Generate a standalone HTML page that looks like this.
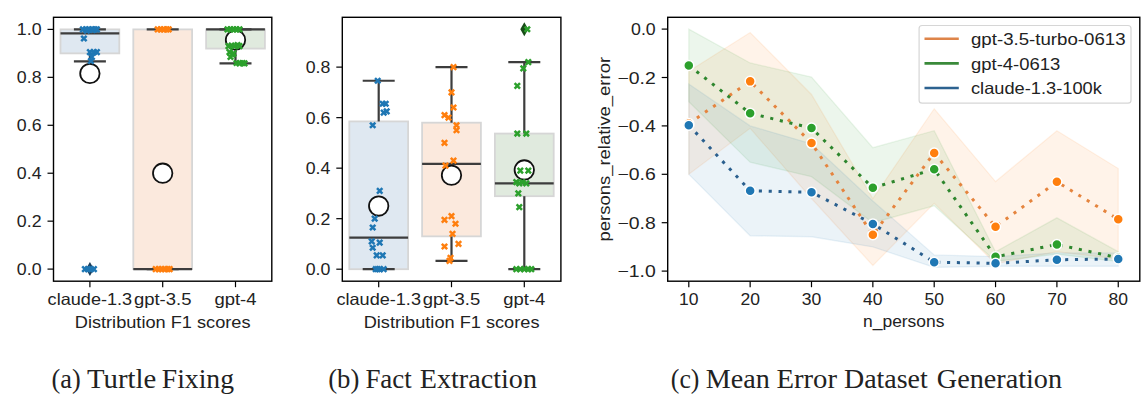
<!DOCTYPE html>
<html><head><meta charset="utf-8"><style>
html,body{margin:0;padding:0;background:#fff;width:1145px;height:407px;overflow:hidden;}
svg{display:block;}
text{fill:#222;}
</style></head><body>
<svg width="1145" height="407" viewBox="0 0 1145 407">
<g id="a">
<rect x="60.50" y="29.40" width="58.80" height="23.97" fill="#dfe8f1" stroke="#d6d6d6" stroke-width="1.8"/>
<line x1="89.90" y1="53.37" x2="89.90" y2="61.28" stroke="#3d3d3d" stroke-width="2.2" />
<line x1="73.90" y1="29.40" x2="105.90" y2="29.40" stroke="#3d3d3d" stroke-width="2.2" />
<line x1="73.90" y1="61.28" x2="105.90" y2="61.28" stroke="#3d3d3d" stroke-width="2.2" />
<line x1="60.50" y1="33.47" x2="119.30" y2="33.47" stroke="#3d3d3d" stroke-width="2.3" />
<path d="M89.90,262.10L93.90,269.10L89.90,276.10L85.90,269.10Z" fill="#1d3f5c"/>
<circle cx="89.90" cy="73.50" r="9.7" fill="#fff" stroke="#111" stroke-width="1.8"/>
<path d="M80.20,26.70L85.60,32.10M80.20,32.10L85.60,26.70" stroke="#1f77b4" stroke-width="2.5"/>
<path d="M83.20,26.70L88.60,32.10M83.20,32.10L88.60,26.70" stroke="#1f77b4" stroke-width="2.5"/>
<path d="M86.20,26.70L91.60,32.10M86.20,32.10L91.60,26.70" stroke="#1f77b4" stroke-width="2.5"/>
<path d="M89.20,26.70L94.60,32.10M89.20,32.10L94.60,26.70" stroke="#1f77b4" stroke-width="2.5"/>
<path d="M92.20,26.70L97.60,32.10M92.20,32.10L97.60,26.70" stroke="#1f77b4" stroke-width="2.5"/>
<path d="M94.20,26.70L99.60,32.10M94.20,32.10L99.60,26.70" stroke="#1f77b4" stroke-width="2.5"/>
<path d="M84.20,27.90L89.60,33.30M84.20,33.30L89.60,27.90" stroke="#1f77b4" stroke-width="2.5"/>
<path d="M90.20,27.18L95.60,32.58M90.20,32.58L95.60,27.18" stroke="#1f77b4" stroke-width="2.5"/>
<path d="M81.20,35.81L86.60,41.21M81.20,41.21L86.60,35.81" stroke="#1f77b4" stroke-width="2.5"/>
<path d="M87.20,49.47L92.60,54.87M87.20,54.87L92.60,49.47" stroke="#1f77b4" stroke-width="2.5"/>
<path d="M91.20,49.47L96.60,54.87M91.20,54.87L96.60,49.47" stroke="#1f77b4" stroke-width="2.5"/>
<path d="M94.20,49.47L99.60,54.87M94.20,54.87L99.60,49.47" stroke="#1f77b4" stroke-width="2.5"/>
<path d="M89.20,54.27L94.60,59.67M89.20,59.67L94.60,54.27" stroke="#1f77b4" stroke-width="2.5"/>
<path d="M88.20,58.34L93.60,63.74M88.20,63.74L93.60,58.34" stroke="#1f77b4" stroke-width="2.5"/>
<path d="M82.20,266.40L87.60,271.80M82.20,271.80L87.60,266.40" stroke="#1f77b4" stroke-width="2.5"/>
<path d="M85.20,266.40L90.60,271.80M85.20,271.80L90.60,266.40" stroke="#1f77b4" stroke-width="2.5"/>
<path d="M88.20,266.40L93.60,271.80M88.20,271.80L93.60,266.40" stroke="#1f77b4" stroke-width="2.5"/>
<path d="M91.20,266.40L96.60,271.80M91.20,271.80L96.60,266.40" stroke="#1f77b4" stroke-width="2.5"/>
<rect x="133.30" y="29.40" width="58.80" height="239.70" fill="#fbe9dd" stroke="#d6d6d6" stroke-width="1.8"/>
<line x1="146.70" y1="29.40" x2="178.70" y2="29.40" stroke="#3d3d3d" stroke-width="2.2" />
<line x1="146.70" y1="269.10" x2="178.70" y2="269.10" stroke="#3d3d3d" stroke-width="2.2" />
<line x1="133.30" y1="269.10" x2="192.10" y2="269.10" stroke="#3d3d3d" stroke-width="2.3" />
<circle cx="162.70" cy="173.22" r="9.7" fill="#fff" stroke="#111" stroke-width="1.8"/>
<path d="M155.00,26.70L160.40,32.10M155.00,32.10L160.40,26.70" stroke="#ff7f0e" stroke-width="2.5"/>
<path d="M158.00,26.70L163.40,32.10M158.00,32.10L163.40,26.70" stroke="#ff7f0e" stroke-width="2.5"/>
<path d="M161.00,26.70L166.40,32.10M161.00,32.10L166.40,26.70" stroke="#ff7f0e" stroke-width="2.5"/>
<path d="M164.00,26.70L169.40,32.10M164.00,32.10L169.40,26.70" stroke="#ff7f0e" stroke-width="2.5"/>
<path d="M166.00,26.70L171.40,32.10M166.00,32.10L171.40,26.70" stroke="#ff7f0e" stroke-width="2.5"/>
<path d="M153.00,266.40L158.40,271.80M153.00,271.80L158.40,266.40" stroke="#ff7f0e" stroke-width="2.5"/>
<path d="M156.00,266.40L161.40,271.80M156.00,271.80L161.40,266.40" stroke="#ff7f0e" stroke-width="2.5"/>
<path d="M159.00,266.40L164.40,271.80M159.00,271.80L164.40,266.40" stroke="#ff7f0e" stroke-width="2.5"/>
<path d="M162.00,266.40L167.40,271.80M162.00,271.80L167.40,266.40" stroke="#ff7f0e" stroke-width="2.5"/>
<path d="M165.00,266.40L170.40,271.80M165.00,271.80L170.40,266.40" stroke="#ff7f0e" stroke-width="2.5"/>
<path d="M167.00,266.40L172.40,271.80M167.00,271.80L172.40,266.40" stroke="#ff7f0e" stroke-width="2.5"/>
<rect x="206.10" y="29.40" width="58.80" height="19.18" fill="#e0eade" stroke="#d6d6d6" stroke-width="1.8"/>
<line x1="235.50" y1="48.58" x2="235.50" y2="63.44" stroke="#3d3d3d" stroke-width="2.2" />
<line x1="219.50" y1="29.40" x2="251.50" y2="29.40" stroke="#3d3d3d" stroke-width="2.2" />
<line x1="219.50" y1="63.44" x2="251.50" y2="63.44" stroke="#3d3d3d" stroke-width="2.2" />
<line x1="206.10" y1="29.40" x2="264.90" y2="29.40" stroke="#3d3d3d" stroke-width="2.3" />
<circle cx="235.50" cy="39.95" r="9.7" fill="#fff" stroke="#111" stroke-width="1.8"/>
<path d="M224.80,26.70L230.20,32.10M224.80,32.10L230.20,26.70" stroke="#2ca02c" stroke-width="2.5"/>
<path d="M227.80,26.70L233.20,32.10M227.80,32.10L233.20,26.70" stroke="#2ca02c" stroke-width="2.5"/>
<path d="M230.80,26.70L236.20,32.10M230.80,32.10L236.20,26.70" stroke="#2ca02c" stroke-width="2.5"/>
<path d="M233.80,26.70L239.20,32.10M233.80,32.10L239.20,26.70" stroke="#2ca02c" stroke-width="2.5"/>
<path d="M236.80,26.70L242.20,32.10M236.80,32.10L242.20,26.70" stroke="#2ca02c" stroke-width="2.5"/>
<path d="M225.80,43.48L231.20,48.88M225.80,48.88L231.20,43.48" stroke="#2ca02c" stroke-width="2.5"/>
<path d="M228.80,43.00L234.20,48.40M228.80,48.40L234.20,43.00" stroke="#2ca02c" stroke-width="2.5"/>
<path d="M231.80,43.48L237.20,48.88M231.80,48.88L237.20,43.48" stroke="#2ca02c" stroke-width="2.5"/>
<path d="M234.80,42.28L240.20,47.68M234.80,47.68L240.20,42.28" stroke="#2ca02c" stroke-width="2.5"/>
<path d="M236.80,43.48L242.20,48.88M236.80,48.88L242.20,43.48" stroke="#2ca02c" stroke-width="2.5"/>
<path d="M226.80,49.47L232.20,54.87M226.80,54.87L232.20,49.47" stroke="#2ca02c" stroke-width="2.5"/>
<path d="M229.80,51.87L235.20,57.27M229.80,57.27L235.20,51.87" stroke="#2ca02c" stroke-width="2.5"/>
<path d="M227.80,54.27L233.20,59.67M227.80,59.67L233.20,54.27" stroke="#2ca02c" stroke-width="2.5"/>
<path d="M230.80,50.67L236.20,56.07M230.80,56.07L236.20,50.67" stroke="#2ca02c" stroke-width="2.5"/>
<path d="M233.80,60.26L239.20,65.66M233.80,65.66L239.20,60.26" stroke="#2ca02c" stroke-width="2.5"/>
<path d="M236.80,60.74L242.20,66.14M236.80,66.14L242.20,60.74" stroke="#2ca02c" stroke-width="2.5"/>
<path d="M239.80,60.26L245.20,65.66M239.80,65.66L245.20,60.26" stroke="#2ca02c" stroke-width="2.5"/>
<path d="M241.80,60.74L247.20,66.14M241.80,66.14L247.20,60.74" stroke="#2ca02c" stroke-width="2.5"/>
<rect x="53.5" y="17.3" width="218.3" height="263.9" fill="none" stroke="#000" stroke-width="1.4"/>
<line x1="47.50" y1="269.10" x2="53.50" y2="269.10" stroke="#000" stroke-width="1.2" />
<text x="41.50" y="275.10" font-family="Liberation Sans" font-size="16.5" text-anchor="end" textLength="24.65" lengthAdjust="spacingAndGlyphs" >0.0</text>
<line x1="47.50" y1="221.16" x2="53.50" y2="221.16" stroke="#000" stroke-width="1.2" />
<text x="41.50" y="227.16" font-family="Liberation Sans" font-size="16.5" text-anchor="end" textLength="24.65" lengthAdjust="spacingAndGlyphs" >0.2</text>
<line x1="47.50" y1="173.22" x2="53.50" y2="173.22" stroke="#000" stroke-width="1.2" />
<text x="41.50" y="179.22" font-family="Liberation Sans" font-size="16.5" text-anchor="end" textLength="24.65" lengthAdjust="spacingAndGlyphs" >0.4</text>
<line x1="47.50" y1="125.28" x2="53.50" y2="125.28" stroke="#000" stroke-width="1.2" />
<text x="41.50" y="131.28" font-family="Liberation Sans" font-size="16.5" text-anchor="end" textLength="24.65" lengthAdjust="spacingAndGlyphs" >0.6</text>
<line x1="47.50" y1="77.34" x2="53.50" y2="77.34" stroke="#000" stroke-width="1.2" />
<text x="41.50" y="83.34" font-family="Liberation Sans" font-size="16.5" text-anchor="end" textLength="24.65" lengthAdjust="spacingAndGlyphs" >0.8</text>
<line x1="47.50" y1="29.40" x2="53.50" y2="29.40" stroke="#000" stroke-width="1.2" />
<text x="41.50" y="35.40" font-family="Liberation Sans" font-size="16.5" text-anchor="end" textLength="24.65" lengthAdjust="spacingAndGlyphs" >1.0</text>
<line x1="89.90" y1="281.20" x2="89.90" y2="287.20" stroke="#000" stroke-width="1.2" />
<text x="89.90" y="304.70" font-family="Liberation Sans" font-size="16.5" text-anchor="middle" textLength="84.54" lengthAdjust="spacingAndGlyphs" >claude-1.3</text>
<line x1="162.70" y1="281.20" x2="162.70" y2="287.20" stroke="#000" stroke-width="1.2" />
<text x="162.70" y="304.70" font-family="Liberation Sans" font-size="16.5" text-anchor="middle" textLength="57.52" lengthAdjust="spacingAndGlyphs" >gpt-3.5</text>
<line x1="235.50" y1="281.20" x2="235.50" y2="287.20" stroke="#000" stroke-width="1.2" />
<text x="235.50" y="304.70" font-family="Liberation Sans" font-size="16.5" text-anchor="middle" textLength="42.01" lengthAdjust="spacingAndGlyphs" >gpt-4</text>
<text x="162.65" y="327.50" font-family="Liberation Sans" font-size="16.5" text-anchor="middle" textLength="175.78" lengthAdjust="spacingAndGlyphs" >Distribution F1 scores</text>
</g>
<g id="b">
<rect x="349.30" y="121.43" width="58.80" height="147.77" fill="#dfe8f1" stroke="#d6d6d6" stroke-width="1.8"/>
<line x1="378.70" y1="121.43" x2="378.70" y2="80.76" stroke="#3d3d3d" stroke-width="2.2" />
<line x1="362.70" y1="80.76" x2="394.70" y2="80.76" stroke="#3d3d3d" stroke-width="2.2" />
<line x1="362.70" y1="269.20" x2="394.70" y2="269.20" stroke="#3d3d3d" stroke-width="2.2" />
<line x1="349.30" y1="237.62" x2="408.10" y2="237.62" stroke="#3d3d3d" stroke-width="2.3" />
<circle cx="378.70" cy="206.05" r="9.7" fill="#fff" stroke="#111" stroke-width="1.8"/>
<path d="M375.00,78.06L380.40,83.46M375.00,83.46L380.40,78.06" stroke="#1f77b4" stroke-width="2.5"/>
<path d="M380.00,101.05L385.40,106.45M380.00,106.45L385.40,101.05" stroke="#1f77b4" stroke-width="2.5"/>
<path d="M383.00,101.05L388.40,106.45M383.00,106.45L388.40,101.05" stroke="#1f77b4" stroke-width="2.5"/>
<path d="M381.00,109.89L386.40,115.29M381.00,115.29L386.40,109.89" stroke="#1f77b4" stroke-width="2.5"/>
<path d="M384.00,108.62L389.40,114.02M384.00,114.02L389.40,108.62" stroke="#1f77b4" stroke-width="2.5"/>
<path d="M370.00,122.52L375.40,127.92M370.00,127.92L375.40,122.52" stroke="#1f77b4" stroke-width="2.5"/>
<path d="M377.00,188.19L382.40,193.59M377.00,193.59L382.40,188.19" stroke="#1f77b4" stroke-width="2.5"/>
<path d="M372.00,215.98L377.40,221.38M372.00,221.38L377.40,215.98" stroke="#1f77b4" stroke-width="2.5"/>
<path d="M370.00,224.82L375.40,230.22M370.00,230.22L375.40,224.82" stroke="#1f77b4" stroke-width="2.5"/>
<path d="M369.00,238.71L374.40,244.11M369.00,244.11L374.40,238.71" stroke="#1f77b4" stroke-width="2.5"/>
<path d="M377.00,239.98L382.40,245.38M377.00,245.38L382.40,239.98" stroke="#1f77b4" stroke-width="2.5"/>
<path d="M370.00,245.03L375.40,250.43M370.00,250.43L375.40,245.03" stroke="#1f77b4" stroke-width="2.5"/>
<path d="M374.00,252.61L379.40,258.01M374.00,258.01L379.40,252.61" stroke="#1f77b4" stroke-width="2.5"/>
<path d="M380.00,252.61L385.40,258.01M380.00,258.01L385.40,252.61" stroke="#1f77b4" stroke-width="2.5"/>
<path d="M373.00,266.50L378.40,271.90M373.00,271.90L378.40,266.50" stroke="#1f77b4" stroke-width="2.5"/>
<path d="M377.00,266.50L382.40,271.90M377.00,271.90L382.40,266.50" stroke="#1f77b4" stroke-width="2.5"/>
<path d="M381.00,266.50L386.40,271.90M381.00,271.90L386.40,266.50" stroke="#1f77b4" stroke-width="2.5"/>
<path d="M375.00,266.50L380.40,271.90M375.00,271.90L380.40,266.50" stroke="#1f77b4" stroke-width="2.5"/>
<rect x="422.10" y="122.69" width="58.80" height="113.67" fill="#fbe9dd" stroke="#d6d6d6" stroke-width="1.8"/>
<line x1="451.50" y1="122.69" x2="451.50" y2="67.12" stroke="#3d3d3d" stroke-width="2.2" />
<line x1="451.50" y1="236.36" x2="451.50" y2="260.86" stroke="#3d3d3d" stroke-width="2.2" />
<line x1="435.50" y1="67.12" x2="467.50" y2="67.12" stroke="#3d3d3d" stroke-width="2.2" />
<line x1="435.50" y1="260.86" x2="467.50" y2="260.86" stroke="#3d3d3d" stroke-width="2.2" />
<line x1="422.10" y1="163.87" x2="480.90" y2="163.87" stroke="#3d3d3d" stroke-width="2.3" />
<circle cx="451.50" cy="175.23" r="9.7" fill="#fff" stroke="#111" stroke-width="1.8"/>
<path d="M450.80,64.42L456.20,69.82M450.80,69.82L456.20,64.42" stroke="#ff7f0e" stroke-width="2.5"/>
<path d="M448.80,89.68L454.20,95.08M448.80,95.08L454.20,89.68" stroke="#ff7f0e" stroke-width="2.5"/>
<path d="M450.80,104.84L456.20,110.24M450.80,110.24L456.20,104.84" stroke="#ff7f0e" stroke-width="2.5"/>
<path d="M441.80,112.41L447.20,117.81M441.80,117.81L447.20,112.41" stroke="#ff7f0e" stroke-width="2.5"/>
<path d="M445.80,114.94L451.20,120.34M445.80,120.34L451.20,114.94" stroke="#ff7f0e" stroke-width="2.5"/>
<path d="M453.80,122.52L459.20,127.92M453.80,127.92L459.20,122.52" stroke="#ff7f0e" stroke-width="2.5"/>
<path d="M453.80,127.57L459.20,132.97M453.80,132.97L459.20,127.57" stroke="#ff7f0e" stroke-width="2.5"/>
<path d="M441.80,140.20L447.20,145.60M441.80,145.60L447.20,140.20" stroke="#ff7f0e" stroke-width="2.5"/>
<path d="M450.80,157.88L456.20,163.28M450.80,163.28L456.20,157.88" stroke="#ff7f0e" stroke-width="2.5"/>
<path d="M442.80,162.93L448.20,168.33M442.80,168.33L448.20,162.93" stroke="#ff7f0e" stroke-width="2.5"/>
<path d="M448.80,213.45L454.20,218.85M448.80,218.85L454.20,213.45" stroke="#ff7f0e" stroke-width="2.5"/>
<path d="M441.80,217.24L447.20,222.64M441.80,222.64L447.20,217.24" stroke="#ff7f0e" stroke-width="2.5"/>
<path d="M452.80,221.03L458.20,226.43M452.80,226.43L458.20,221.03" stroke="#ff7f0e" stroke-width="2.5"/>
<path d="M449.80,231.14L455.20,236.54M449.80,236.54L455.20,231.14" stroke="#ff7f0e" stroke-width="2.5"/>
<path d="M441.80,243.77L447.20,249.17M441.80,249.17L447.20,243.77" stroke="#ff7f0e" stroke-width="2.5"/>
<path d="M455.80,241.24L461.20,246.64M455.80,246.64L461.20,241.24" stroke="#ff7f0e" stroke-width="2.5"/>
<path d="M447.80,255.13L453.20,260.53M447.80,260.53L453.20,255.13" stroke="#ff7f0e" stroke-width="2.5"/>
<path d="M446.80,258.16L452.20,263.56M446.80,263.56L452.20,258.16" stroke="#ff7f0e" stroke-width="2.5"/>
<rect x="494.90" y="133.55" width="58.80" height="62.64" fill="#e0eade" stroke="#d6d6d6" stroke-width="1.8"/>
<line x1="524.30" y1="133.55" x2="524.30" y2="62.07" stroke="#3d3d3d" stroke-width="2.2" />
<line x1="524.30" y1="196.20" x2="524.30" y2="269.20" stroke="#3d3d3d" stroke-width="2.2" />
<line x1="508.30" y1="62.07" x2="540.30" y2="62.07" stroke="#3d3d3d" stroke-width="2.2" />
<line x1="508.30" y1="269.20" x2="540.30" y2="269.20" stroke="#3d3d3d" stroke-width="2.2" />
<line x1="494.90" y1="183.32" x2="553.70" y2="183.32" stroke="#3d3d3d" stroke-width="2.3" />
<path d="M524.30,22.23L528.30,29.23L524.30,36.23L520.30,29.23Z" fill="#174d17"/>
<circle cx="524.30" cy="169.93" r="9.7" fill="#fff" stroke="#111" stroke-width="1.8"/>
<path d="M524.60,26.53L530.00,31.93M524.60,31.93L530.00,26.53" stroke="#2ca02c" stroke-width="2.5"/>
<path d="M525.60,59.37L531.00,64.77M525.60,64.77L531.00,59.37" stroke="#2ca02c" stroke-width="2.5"/>
<path d="M520.60,65.68L526.00,71.08M520.60,71.08L526.00,65.68" stroke="#2ca02c" stroke-width="2.5"/>
<path d="M514.60,83.11L520.00,88.51M514.60,88.51L520.00,83.11" stroke="#2ca02c" stroke-width="2.5"/>
<path d="M514.60,130.85L520.00,136.25M514.60,136.25L520.00,130.85" stroke="#2ca02c" stroke-width="2.5"/>
<path d="M523.60,130.85L529.00,136.25M523.60,136.25L529.00,130.85" stroke="#2ca02c" stroke-width="2.5"/>
<path d="M517.60,167.99L523.00,173.39M517.60,173.39L523.00,167.99" stroke="#2ca02c" stroke-width="2.5"/>
<path d="M525.60,167.99L531.00,173.39M525.60,173.39L531.00,167.99" stroke="#2ca02c" stroke-width="2.5"/>
<path d="M513.60,179.35L519.00,184.75M513.60,184.75L519.00,179.35" stroke="#2ca02c" stroke-width="2.5"/>
<path d="M516.60,180.62L522.00,186.02M516.60,186.02L522.00,180.62" stroke="#2ca02c" stroke-width="2.5"/>
<path d="M519.60,179.35L525.00,184.75M519.60,184.75L525.00,179.35" stroke="#2ca02c" stroke-width="2.5"/>
<path d="M523.60,180.62L529.00,186.02M523.60,186.02L529.00,180.62" stroke="#2ca02c" stroke-width="2.5"/>
<path d="M515.60,190.72L521.00,196.12M515.60,196.12L521.00,190.72" stroke="#2ca02c" stroke-width="2.5"/>
<path d="M516.60,204.36L522.00,209.76M516.60,209.76L522.00,204.36" stroke="#2ca02c" stroke-width="2.5"/>
<path d="M513.60,266.50L519.00,271.90M513.60,271.90L519.00,266.50" stroke="#2ca02c" stroke-width="2.5"/>
<path d="M517.60,266.50L523.00,271.90M517.60,271.90L523.00,266.50" stroke="#2ca02c" stroke-width="2.5"/>
<path d="M521.60,266.50L527.00,271.90M521.60,271.90L527.00,266.50" stroke="#2ca02c" stroke-width="2.5"/>
<path d="M525.60,266.50L531.00,271.90M525.60,271.90L531.00,266.50" stroke="#2ca02c" stroke-width="2.5"/>
<path d="M528.60,266.50L534.00,271.90M528.60,271.90L534.00,266.50" stroke="#2ca02c" stroke-width="2.5"/>
<rect x="342.3" y="17.3" width="218.59999999999997" height="263.9" fill="none" stroke="#000" stroke-width="1.4"/>
<line x1="336.30" y1="269.20" x2="342.30" y2="269.20" stroke="#000" stroke-width="1.2" />
<text x="330.30" y="275.20" font-family="Liberation Sans" font-size="16.5" text-anchor="end" textLength="24.65" lengthAdjust="spacingAndGlyphs" >0.0</text>
<line x1="336.30" y1="218.68" x2="342.30" y2="218.68" stroke="#000" stroke-width="1.2" />
<text x="330.30" y="224.68" font-family="Liberation Sans" font-size="16.5" text-anchor="end" textLength="24.65" lengthAdjust="spacingAndGlyphs" >0.2</text>
<line x1="336.30" y1="168.16" x2="342.30" y2="168.16" stroke="#000" stroke-width="1.2" />
<text x="330.30" y="174.16" font-family="Liberation Sans" font-size="16.5" text-anchor="end" textLength="24.65" lengthAdjust="spacingAndGlyphs" >0.4</text>
<line x1="336.30" y1="117.64" x2="342.30" y2="117.64" stroke="#000" stroke-width="1.2" />
<text x="330.30" y="123.64" font-family="Liberation Sans" font-size="16.5" text-anchor="end" textLength="24.65" lengthAdjust="spacingAndGlyphs" >0.6</text>
<line x1="336.30" y1="67.12" x2="342.30" y2="67.12" stroke="#000" stroke-width="1.2" />
<text x="330.30" y="73.12" font-family="Liberation Sans" font-size="16.5" text-anchor="end" textLength="24.65" lengthAdjust="spacingAndGlyphs" >0.8</text>
<line x1="378.70" y1="281.20" x2="378.70" y2="287.20" stroke="#000" stroke-width="1.2" />
<text x="378.70" y="304.70" font-family="Liberation Sans" font-size="16.5" text-anchor="middle" textLength="84.54" lengthAdjust="spacingAndGlyphs" >claude-1.3</text>
<line x1="451.50" y1="281.20" x2="451.50" y2="287.20" stroke="#000" stroke-width="1.2" />
<text x="451.50" y="304.70" font-family="Liberation Sans" font-size="16.5" text-anchor="middle" textLength="57.52" lengthAdjust="spacingAndGlyphs" >gpt-3.5</text>
<line x1="524.30" y1="281.20" x2="524.30" y2="287.20" stroke="#000" stroke-width="1.2" />
<text x="524.30" y="304.70" font-family="Liberation Sans" font-size="16.5" text-anchor="middle" textLength="42.01" lengthAdjust="spacingAndGlyphs" >gpt-4</text>
<text x="451.60" y="327.50" font-family="Liberation Sans" font-size="16.5" text-anchor="middle" textLength="175.78" lengthAdjust="spacingAndGlyphs" >Distribution F1 scores</text>
</g>
<g id="c">
<polygon points="688.80,71.21 750.15,32.49 811.50,94.44 872.85,198.50 934.20,108.72 995.55,181.56 1056.90,130.74 1118.25,168.49 1118.25,259.00 1056.90,251.74 995.55,263.84 934.20,203.34 872.85,265.53 811.50,198.50 750.15,128.32 688.80,174.30" fill="#ff7f0e" fill-opacity="0.09" stroke="#ff7f0e" stroke-opacity="0.09" stroke-width="1.3"/>
<polygon points="688.80,29.10 750.15,62.98 811.50,77.02 872.85,147.68 934.20,130.74 995.55,251.74 1056.90,217.86 1118.25,251.74 1118.25,261.42 1056.90,254.16 995.55,261.42 934.20,205.76 872.85,222.70 811.50,176.72 750.15,162.20 688.80,101.70" fill="#2ca02c" fill-opacity="0.09" stroke="#2ca02c" stroke-opacity="0.09" stroke-width="1.3"/>
<polygon points="688.80,84.03 750.15,125.90 811.50,143.81 872.85,200.92 934.20,254.89 995.55,256.58 1056.90,252.95 1118.25,252.95 1118.25,266.26 1056.90,266.26 995.55,266.26 934.20,267.47 872.85,246.90 811.50,236.74 750.15,235.77 688.80,174.30" fill="#1f77b4" fill-opacity="0.09" stroke="#1f77b4" stroke-opacity="0.09" stroke-width="1.3"/>
<polyline points="688.80,123.48 750.15,81.37 811.50,143.08 872.85,234.80 934.20,153.00 995.55,226.81 1056.90,181.80 1118.25,219.31" fill="none" stroke="#e5843e" stroke-width="3.0" stroke-dasharray="3.1 6.75"/>
<circle cx="688.80" cy="123.48" r="5.0" fill="#ff7f0e" stroke="#fff" stroke-width="1.5"/>
<circle cx="750.15" cy="81.37" r="5.0" fill="#ff7f0e" stroke="#fff" stroke-width="1.5"/>
<circle cx="811.50" cy="143.08" r="5.0" fill="#ff7f0e" stroke="#fff" stroke-width="1.5"/>
<circle cx="872.85" cy="234.80" r="5.0" fill="#ff7f0e" stroke="#fff" stroke-width="1.5"/>
<circle cx="934.20" cy="153.00" r="5.0" fill="#ff7f0e" stroke="#fff" stroke-width="1.5"/>
<circle cx="995.55" cy="226.81" r="5.0" fill="#ff7f0e" stroke="#fff" stroke-width="1.5"/>
<circle cx="1056.90" cy="181.80" r="5.0" fill="#ff7f0e" stroke="#fff" stroke-width="1.5"/>
<circle cx="1118.25" cy="219.31" r="5.0" fill="#ff7f0e" stroke="#fff" stroke-width="1.5"/>
<polyline points="688.80,65.40 750.15,113.32 811.50,128.08 872.85,187.85 934.20,169.22 995.55,256.82 1056.90,244.48 1118.25,257.79" fill="none" stroke="#2d862d" stroke-width="3.0" stroke-dasharray="3.1 6.75"/>
<circle cx="688.80" cy="65.40" r="5.0" fill="#2ca02c" stroke="#fff" stroke-width="1.5"/>
<circle cx="750.15" cy="113.32" r="5.0" fill="#2ca02c" stroke="#fff" stroke-width="1.5"/>
<circle cx="811.50" cy="128.08" r="5.0" fill="#2ca02c" stroke="#fff" stroke-width="1.5"/>
<circle cx="872.85" cy="187.85" r="5.0" fill="#2ca02c" stroke="#fff" stroke-width="1.5"/>
<circle cx="934.20" cy="169.22" r="5.0" fill="#2ca02c" stroke="#fff" stroke-width="1.5"/>
<circle cx="995.55" cy="256.82" r="5.0" fill="#2ca02c" stroke="#fff" stroke-width="1.5"/>
<circle cx="1056.90" cy="244.48" r="5.0" fill="#2ca02c" stroke="#fff" stroke-width="1.5"/>
<circle cx="1118.25" cy="257.79" r="5.0" fill="#2ca02c" stroke="#fff" stroke-width="1.5"/>
<polyline points="688.80,125.17 750.15,190.76 811.50,192.21 872.85,223.91 934.20,262.15 995.55,263.36 1056.90,259.73 1118.25,259.00" fill="none" stroke="#2a5f8e" stroke-width="3.0" stroke-dasharray="3.1 6.75"/>
<circle cx="688.80" cy="125.17" r="5.0" fill="#1f77b4" stroke="#fff" stroke-width="1.5"/>
<circle cx="750.15" cy="190.76" r="5.0" fill="#1f77b4" stroke="#fff" stroke-width="1.5"/>
<circle cx="811.50" cy="192.21" r="5.0" fill="#1f77b4" stroke="#fff" stroke-width="1.5"/>
<circle cx="872.85" cy="223.91" r="5.0" fill="#1f77b4" stroke="#fff" stroke-width="1.5"/>
<circle cx="934.20" cy="262.15" r="5.0" fill="#1f77b4" stroke="#fff" stroke-width="1.5"/>
<circle cx="995.55" cy="263.36" r="5.0" fill="#1f77b4" stroke="#fff" stroke-width="1.5"/>
<circle cx="1056.90" cy="259.73" r="5.0" fill="#1f77b4" stroke="#fff" stroke-width="1.5"/>
<circle cx="1118.25" cy="259.00" r="5.0" fill="#1f77b4" stroke="#fff" stroke-width="1.5"/>
<rect x="667.7" y="17.3" width="472.0999999999999" height="263.9" fill="none" stroke="#000" stroke-width="1.4"/>
<line x1="661.70" y1="29.10" x2="667.70" y2="29.10" stroke="#000" stroke-width="1.2" />
<text x="655.70" y="35.10" font-family="Liberation Sans" font-size="16.5" text-anchor="end" textLength="24.65" lengthAdjust="spacingAndGlyphs" >0.0</text>
<line x1="661.70" y1="77.50" x2="667.70" y2="77.50" stroke="#000" stroke-width="1.2" />
<text x="655.70" y="83.50" font-family="Liberation Sans" font-size="16.5" text-anchor="end" textLength="38.26" lengthAdjust="spacingAndGlyphs" >−0.2</text>
<line x1="661.70" y1="125.90" x2="667.70" y2="125.90" stroke="#000" stroke-width="1.2" />
<text x="655.70" y="131.90" font-family="Liberation Sans" font-size="16.5" text-anchor="end" textLength="38.26" lengthAdjust="spacingAndGlyphs" >−0.4</text>
<line x1="661.70" y1="174.30" x2="667.70" y2="174.30" stroke="#000" stroke-width="1.2" />
<text x="655.70" y="180.30" font-family="Liberation Sans" font-size="16.5" text-anchor="end" textLength="38.26" lengthAdjust="spacingAndGlyphs" >−0.6</text>
<line x1="661.70" y1="222.70" x2="667.70" y2="222.70" stroke="#000" stroke-width="1.2" />
<text x="655.70" y="228.70" font-family="Liberation Sans" font-size="16.5" text-anchor="end" textLength="38.26" lengthAdjust="spacingAndGlyphs" >−0.8</text>
<line x1="661.70" y1="271.10" x2="667.70" y2="271.10" stroke="#000" stroke-width="1.2" />
<text x="655.70" y="277.10" font-family="Liberation Sans" font-size="16.5" text-anchor="end" textLength="38.26" lengthAdjust="spacingAndGlyphs" >−1.0</text>
<line x1="688.80" y1="281.20" x2="688.80" y2="287.20" stroke="#000" stroke-width="1.2" />
<text x="688.80" y="304.70" font-family="Liberation Sans" font-size="16.5" text-anchor="middle" textLength="19.48" lengthAdjust="spacingAndGlyphs" >10</text>
<line x1="750.15" y1="281.20" x2="750.15" y2="287.20" stroke="#000" stroke-width="1.2" />
<text x="750.15" y="304.70" font-family="Liberation Sans" font-size="16.5" text-anchor="middle" textLength="19.48" lengthAdjust="spacingAndGlyphs" >20</text>
<line x1="811.50" y1="281.20" x2="811.50" y2="287.20" stroke="#000" stroke-width="1.2" />
<text x="811.50" y="304.70" font-family="Liberation Sans" font-size="16.5" text-anchor="middle" textLength="19.48" lengthAdjust="spacingAndGlyphs" >30</text>
<line x1="872.85" y1="281.20" x2="872.85" y2="287.20" stroke="#000" stroke-width="1.2" />
<text x="872.85" y="304.70" font-family="Liberation Sans" font-size="16.5" text-anchor="middle" textLength="19.48" lengthAdjust="spacingAndGlyphs" >40</text>
<line x1="934.20" y1="281.20" x2="934.20" y2="287.20" stroke="#000" stroke-width="1.2" />
<text x="934.20" y="304.70" font-family="Liberation Sans" font-size="16.5" text-anchor="middle" textLength="19.48" lengthAdjust="spacingAndGlyphs" >50</text>
<line x1="995.55" y1="281.20" x2="995.55" y2="287.20" stroke="#000" stroke-width="1.2" />
<text x="995.55" y="304.70" font-family="Liberation Sans" font-size="16.5" text-anchor="middle" textLength="19.48" lengthAdjust="spacingAndGlyphs" >60</text>
<line x1="1056.90" y1="281.20" x2="1056.90" y2="287.20" stroke="#000" stroke-width="1.2" />
<text x="1056.90" y="304.70" font-family="Liberation Sans" font-size="16.5" text-anchor="middle" textLength="19.48" lengthAdjust="spacingAndGlyphs" >70</text>
<line x1="1118.25" y1="281.20" x2="1118.25" y2="287.20" stroke="#000" stroke-width="1.2" />
<text x="1118.25" y="304.70" font-family="Liberation Sans" font-size="16.5" text-anchor="middle" textLength="19.48" lengthAdjust="spacingAndGlyphs" >80</text>
<text x="903.75" y="327.20" font-family="Liberation Sans" font-size="16.5" text-anchor="middle" textLength="81.40" lengthAdjust="spacingAndGlyphs" >n_persons</text>
<g transform="translate(610.0,149.2) rotate(-90)">
<text x="0.00" y="0.00" font-family="Liberation Sans" font-size="16.5" text-anchor="middle" textLength="184.48" lengthAdjust="spacingAndGlyphs" >persons_relative_error</text>
</g>
<rect x="919.1" y="25.5" width="211.9" height="77.7" rx="3" ry="3" fill="#fff" fill-opacity="0.8" stroke="#d6d6d6" stroke-width="1.2"/>
<line x1="924.50" y1="38.80" x2="958.80" y2="38.80" stroke="#de8449" stroke-width="2.6" />
<text x="971.00" y="45.10" font-family="Liberation Sans" font-size="16.5" text-anchor="start" textLength="154.53" lengthAdjust="spacingAndGlyphs" >gpt-3.5-turbo-0613</text>
<line x1="924.50" y1="63.40" x2="958.80" y2="63.40" stroke="#3a8a3a" stroke-width="2.6" />
<text x="971.00" y="69.70" font-family="Liberation Sans" font-size="16.5" text-anchor="start" textLength="89.24" lengthAdjust="spacingAndGlyphs" >gpt-4-0613</text>
<line x1="924.50" y1="88.00" x2="958.80" y2="88.00" stroke="#2d6290" stroke-width="2.6" />
<text x="971.00" y="94.30" font-family="Liberation Sans" font-size="16.5" text-anchor="start" textLength="130.84" lengthAdjust="spacingAndGlyphs" >claude-1.3-100k</text>
</g>
<text x="51.60" y="387.7" font-family="Liberation Serif" font-size="27" textLength="29.20" lengthAdjust="spacingAndGlyphs">(a)</text>
<text x="87.00" y="387.7" font-family="Liberation Serif" font-size="27" textLength="69.20" lengthAdjust="spacingAndGlyphs">Turtle</text>
<text x="161.80" y="387.7" font-family="Liberation Serif" font-size="27" textLength="72.20" lengthAdjust="spacingAndGlyphs">Fixing</text>
<text x="328.20" y="387.7" font-family="Liberation Serif" font-size="27" textLength="31.20" lengthAdjust="spacingAndGlyphs">(b)</text>
<text x="365.40" y="387.7" font-family="Liberation Serif" font-size="27" textLength="46.40" lengthAdjust="spacingAndGlyphs">Fact</text>
<text x="419.80" y="387.7" font-family="Liberation Serif" font-size="27" textLength="117.20" lengthAdjust="spacingAndGlyphs">Extraction</text>
<text x="670.80" y="387.7" font-family="Liberation Serif" font-size="27" textLength="28.60" lengthAdjust="spacingAndGlyphs">(c)</text>
<text x="705.80" y="387.7" font-family="Liberation Serif" font-size="27" textLength="64.00" lengthAdjust="spacingAndGlyphs">Mean</text>
<text x="776.40" y="387.7" font-family="Liberation Serif" font-size="27" textLength="60.60" lengthAdjust="spacingAndGlyphs">Error</text>
<text x="844.00" y="387.7" font-family="Liberation Serif" font-size="27" textLength="83.80" lengthAdjust="spacingAndGlyphs">Dataset</text>
<text x="936.80" y="387.7" font-family="Liberation Serif" font-size="27" textLength="125.20" lengthAdjust="spacingAndGlyphs">Generation</text>
</svg>
</body></html>
